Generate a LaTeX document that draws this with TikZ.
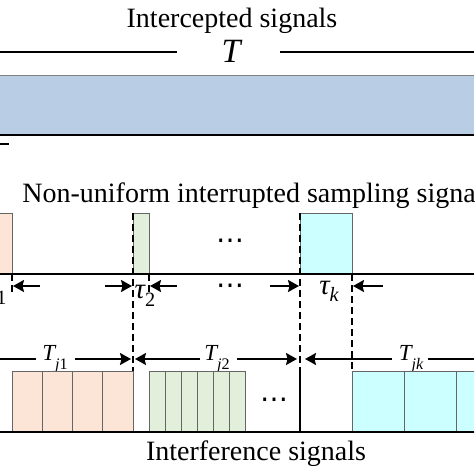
\documentclass[tikz,border=0pt]{standalone}
\usepackage{fontspec}
\setmainfont{Liberation Serif}
\newfontfamily\dotsfont{DejaVu Sans}
\usepackage{tikz}
\usetikzlibrary{arrows.meta, positioning, calc}
\definecolor{sigblue}{HTML}{B9CDE5}
\definecolor{sigorange}{HTML}{FCE4D6}
\definecolor{siggreen}{HTML}{E2EFDA}
\definecolor{sigcyan}{HTML}{CCFFFF}
\newcommand{\lowsub}[2][.3em]{\raisebox{-#1}{\scalebox{.7}{#2}}}
\tikzset{
   myaxis/.style={draw, line width=1pt},
   mycell/.style={draw=gray!80!black, line width=.4pt},
   mydashed/.style={draw, line width=.9pt, dash pattern=on 3.5pt off 2pt},
   myarrow/.style={draw, line width=1pt, -{Stealth[length=5.5pt,width=6pt,inset=.8pt]}},
   mytext/.style={inner sep=0pt, font=\fontsize{14}{16}\selectfont},
   mytau/.style={inner sep=0pt, font=\fontsize{14.5}{16}\selectfont\itshape},
   myperiod/.style={inner sep=0pt, font=\fontsize{11.5}{13}\selectfont\itshape},
   mydots/.style={inner sep=0pt, font=\fontsize{14}{16}\selectfont\dotsfont}
}

\begin{document}
\begin{tikzpicture}[x=.5pt, y=-.5pt]
   \useasboundingbox (0,0) rectangle (474,474);
   \clip (0,0) rectangle (474,474);

   % intercepted signal
   \node[mytext, anchor=base] (inter) at (232,28) {Intercepted signals};
   \node[inner sep=0pt, anchor=base, font=\fontsize{17}{19}\selectfont\itshape] (T) at (231,63) {T};
   \coordinate (Tl) at (177,52);
   \coordinate (Tr) at (280,52);
   \draw[myaxis] (0,52) -- (Tl);
   \draw[myaxis] (Tr) -- (474,52);
   \fill[sigblue] (0,75) rectangle (474,135);
   \draw[gray, line width=.4pt] (0,75) -- (474,75);
   \draw[myaxis] (0,135) -- (474,135);
   \draw[myaxis] (0,144) -- (9,144);

   % sampling signal
   \node[mytext, anchor=base west] (samp) at (22,203) {Non-uniform interrupted sampling signals};
   \filldraw[fill=sigorange, mycell] (-18,274) rectangle (12,213);
   \filldraw[fill=siggreen, mycell] (133,274) rectangle (149,213);
   \filldraw[fill=sigcyan, mycell] (300,274) rectangle (352,213);
   \draw[myaxis] (0,274) -- (474,274);
   \node[mydots] (dotsA) at (230,244) {⋯};
   \node[mydots] (dotsB) at (230,289) {⋯};

   \draw[mydashed] (12,274) -- (12,293);
   \draw[mydashed] (133,213) -- (133,371);
   \draw[mydashed] (149,274) -- (149,293);
   \draw[mydashed] (300,213) -- (300,432);
   \draw[mydashed] (352,274) -- (352,371);

   \draw[myarrow] (40,286) -- (13,286);
   \draw[myarrow] (105,286) -- (132,286);
   \draw[myarrow] (177,286) -- (150,286);
   \draw[myarrow] (270,286) -- (299,286);
   \draw[myarrow] (383,286) -- (353,286);

   \node[mytau, anchor=base east] (tau1) at (7,297) {τ\lowsub[.25em]{\upshape 1}};
   \node[mytau, anchor=base] (tau2) at (145,299) {τ\lowsub[.25em]{\upshape 2}};
   \node[mytau, anchor=base] (tauk) at (329,294) {τ\lowsub[.25em]{k}};

   % interference signal
   \node[myperiod, anchor=base] (Tj1) at (55,360) {T\lowsub[.4em]{j\upshape 1}};
   \node[myperiod, anchor=base] (Tj2) at (217,360) {T\lowsub[.4em]{j\upshape 2}};
   \node[myperiod, anchor=base] (Tjk) at (411,360) {T\lowsub[.4em]{jk}};
   \coordinate (Tj1l) at (36,359);
   \coordinate (Tj1r) at (75,359);
   \coordinate (Tj2l) at (200,359);
   \coordinate (Tj2r) at (237,359);
   \coordinate (Tjkl) at (392,359);
   \coordinate (Tjkr) at (428,359);
   \draw[myaxis] (0,359) -- (Tj1l);
   \draw[myarrow] (Tj1r) -- (131,359);
   \draw[myarrow] (Tj2l) -- (135,359);
   \draw[myarrow] (Tj2r) -- (297,359);
   \draw[myarrow] (Tjkl) -- (305,359);
   \draw[myaxis] (Tjkr) -- (474,359);

   \filldraw[fill=sigorange, mycell] (12,432) rectangle (42.25,371);
   \filldraw[fill=sigorange, mycell] (42.25,432) rectangle (72.5,371);
   \filldraw[fill=sigorange, mycell] (72.5,432) rectangle (102.75,371);
   \filldraw[fill=sigorange, mycell] (102.75,432) rectangle (133,371);
   \filldraw[fill=siggreen, mycell] (149,432) rectangle (165.1,371);
   \filldraw[fill=siggreen, mycell] (165.1,432) rectangle (181.2,371);
   \filldraw[fill=siggreen, mycell] (181.2,432) rectangle (197.3,371);
   \filldraw[fill=siggreen, mycell] (197.3,432) rectangle (213.4,371);
   \filldraw[fill=siggreen, mycell] (213.4,432) rectangle (229.5,371);
   \filldraw[fill=siggreen, mycell] (229.5,432) rectangle (245.6,371);
   \filldraw[fill=sigcyan, mycell] (352,432) rectangle (404,371);
   \filldraw[fill=sigcyan, mycell] (404,432) rectangle (456,371);
   \filldraw[fill=sigcyan, mycell] (456,432) rectangle (508,371);
   \draw[mydashed] (300,371) -- (300,432);
   \draw[myaxis] (0,432) -- (474,432);
   \node[mydots] (dotsC) at (274,403) {⋯};
   \node[mytext, anchor=base] (intf) at (256,460) {Interference signals};
\end{tikzpicture}
\end{document}
